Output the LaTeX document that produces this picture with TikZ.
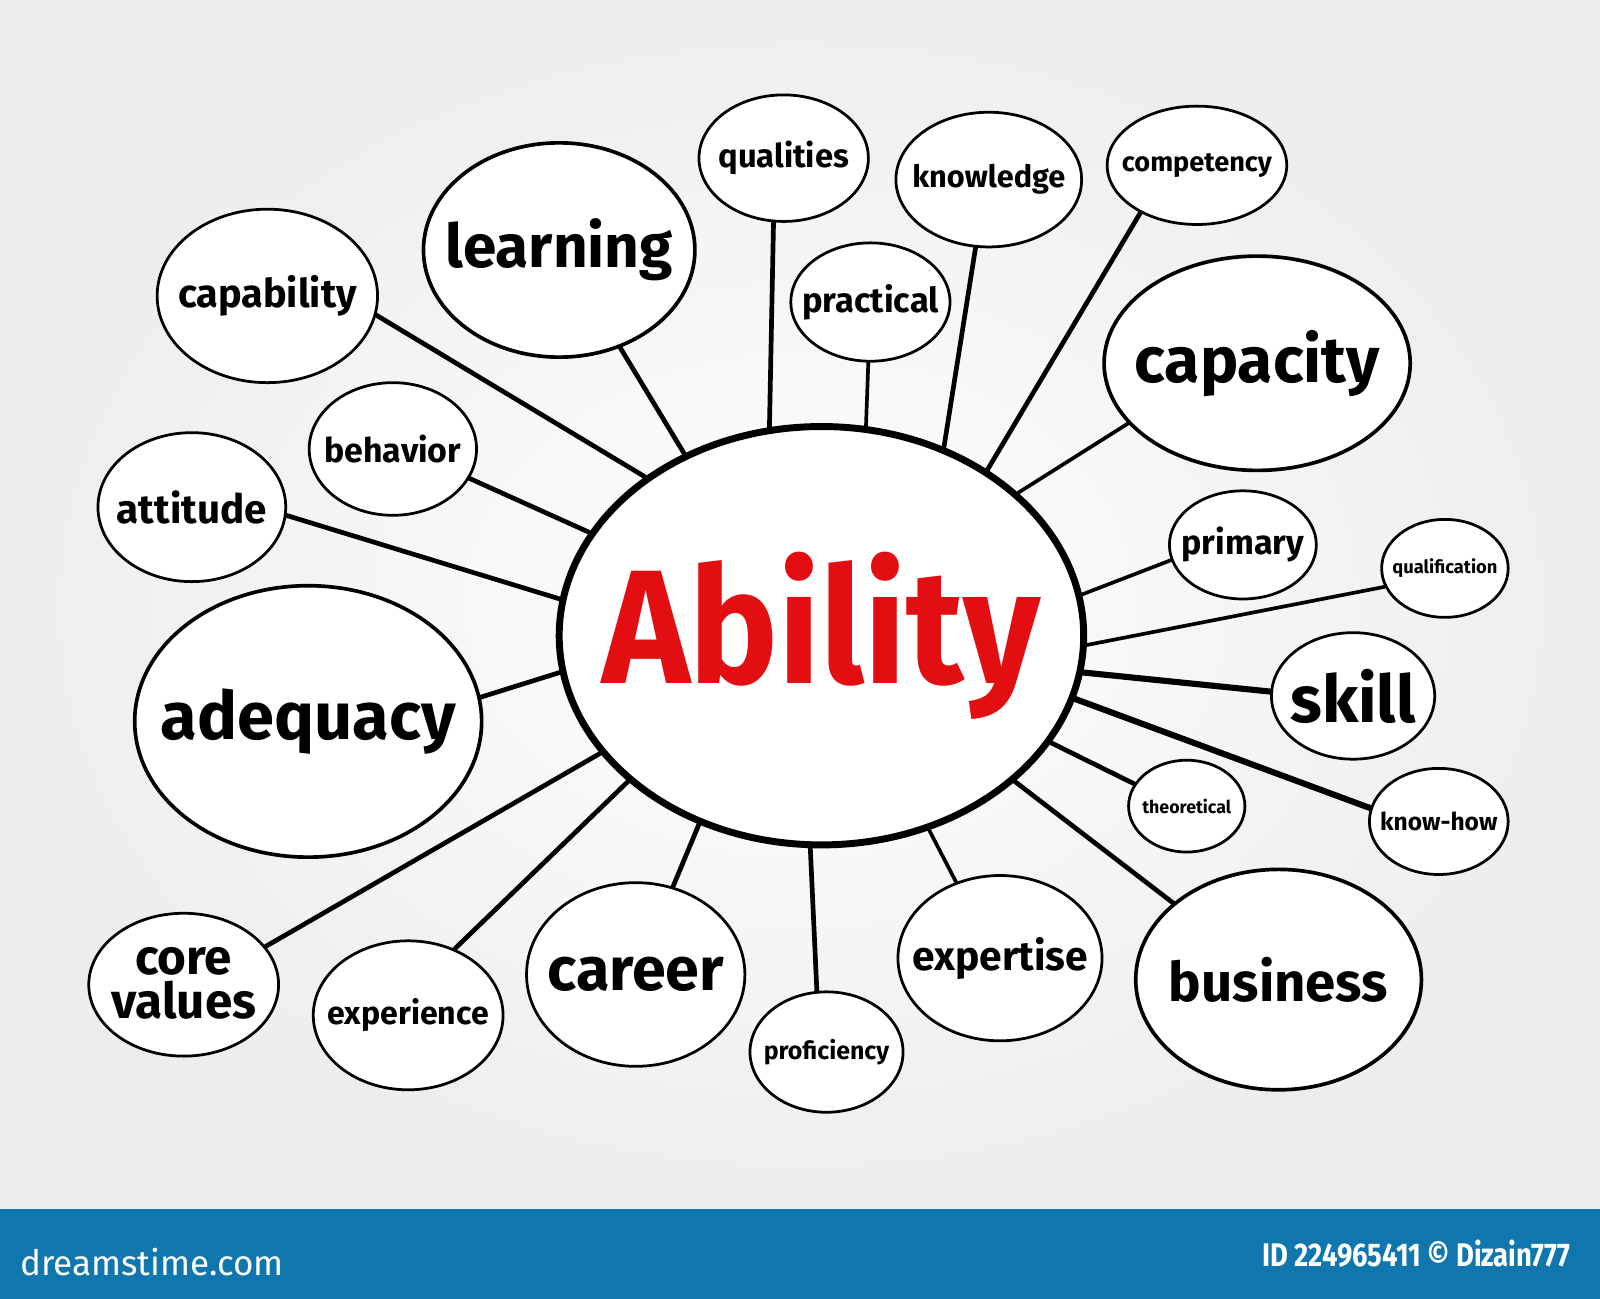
\documentclass[tikz,border=0pt]{standalone}
\usepackage{fontspec}
\setmainfont{Fira Sans}
\usepackage{graphicx}
\usetikzlibrary{shapes.geometric}
\definecolor{abred}{RGB}{226,14,18}
\definecolor{barblue}{RGB}{16,119,174}
\newcommand\bubtext[2]{\resizebox{#1pt}{!}{\bfseries #2}}
\begin{document}
\begin{tikzpicture}[x=0.5pt,y=-0.5pt,
  bub/.style n args={2}{ellipse, draw=black, fill=white, line width=1.35pt,
    minimum width=#1pt, minimum height=#2pt, inner sep=0pt},
  bigbub/.style={line width=1.8pt},
  conn/.style={line width=2.3pt, line cap=round},
  cthin/.style={line width=1.8pt},
  cthick/.style={line width=3pt}]
\useasboundingbox (0,0) rectangle (1568,1273);
\shade[inner color=white, outer color=black!7] (0,0) rectangle (1568,1185);
\fill[barblue] (0,1185) rectangle (1568,1273);

% centre
\node[bub={257}{205}, line width=3.4pt,
  label={[text=abred]center:{\resizebox*{215pt}{82pt}{\bfseries Ability}}}] (ab) at (805,623) {};

% outer bubbles
\node[bub={83}{62}, label=center:{\bubtext{64}{qualities}}] (qual) at (768,155) {};
\node[bub={91}{66}, label=center:{\bubtext{75}{knowledge}}] (know) at (969,176) {};
\node[bub={88}{58}, label=center:{\bubtext{73.5}{competency}}] (comp) at (1173,162) {};
\node[bub={133}{105}, bigbub, label=center:{\bubtext{111.5}{learning}}] (learn) at (548,245) {};
\node[bub={108}{85}, label=center:{\bubtext{87.5}{capability}}] (capab) at (262,290) {};
\node[bub={78}{58}, label=center:{\bubtext{67}{practical}}] (pract) at (853,296) {};
\node[bub={150}{105}, bigbub, label=center:{\bubtext{120}{capacity}}] (capac) at (1232,356) {};
\node[bub={82}{65}, label=center:{\bubtext{67}{behavior}}] (behav) at (385,440) {};
\node[bub={92}{73}, label=center:{\bubtext{73.5}{attitude}}] (attit) at (188,497) {};
\node[bub={72}{53}, label=center:{\bubtext{60}{primary}}] (prim) at (1218,534) {};
\node[bub={62}{48}, label=center:{\bubtext{51.5}{qualification}}] (qualif) at (1416,557) {};
\node[bub={170}{133}, bigbub, label=center:{\bubtext{144.5}{adequacy}}] (adeq) at (302,707) {};
\node[bub={80}{62}, label=center:{\bubtext{61.5}{skill}}] (skill) at (1326,682) {};
\node[bub={57}{45}, label=center:{\bubtext{43.5}{theoretical}}] (theor) at (1163,790) {};
\node[bub={68}{52}, label=center:{\bubtext{57.5}{know-how}}] (knowhow) at (1410,805) {};
\node[bub={93}{70}, label=center:{\resizebox{71pt}{!}{\bfseries\begin{tabular}{@{}c@{}}core\\[-3pt]values\end{tabular}}}] (core) at (180,965) {};
\node[bub={93}{73}, label=center:{\bubtext{79}{experience}}] (exper) at (400,995) {};
\node[bub={107}{90}, label=center:{\bubtext{86.5}{career}}] (career) at (623,955) {};
\node[bub={75}{59}, label=center:{\bubtext{61.5}{proficiency}}] (profic) at (810,1031) {};
\node[bub={100}{81}, label=center:{\bubtext{86}{expertise}}] (expert) at (980,939) {};
\node[bub={140}{108}, bigbub, label=center:{\bubtext{107.5}{business}}] (busin) at (1253,960) {};

% connectors
\draw[conn] (ab.138) -- (capab.350);
\draw[conn] (ab.127) -- (learn.302);
\draw[conn] (ab.104) -- (qual.261);
\draw[conn, cthin] (ab.78) -- (pract.268);
\draw[conn] (ab.57) -- (know.259);
\draw[conn] (ab.45) -- (comp.220);
\draw[conn, cthin] (ab.36) -- (capac.205);
\draw[conn, cthin] (ab.9) -- (prim.192);
\draw[conn, cthin] (ab.358) -- (qualif.197);
\draw[conn, cthick] (ab.352) -- (skill.177);
\draw[conn, cthick] (ab.346) -- (knowhow.169);
\draw[conn] (ab.335) -- (theor.157);
\draw[conn] (ab.323) -- (busin.144);
\draw[conn, cthin] (ab.299) -- (expert.120);
\draw[conn] (ab.267) -- (profic.99);
\draw[conn] (ab.237) -- (career.67);
\draw[conn] (ab.217) -- (exper.55);
\draw[conn] (ab.208) -- (core.25);
\draw[conn] (ab.188) -- (adeq.8);
\draw[conn] (ab.172) -- (attit.355);
\draw[conn] (ab.156) -- (behav.339);

% footer
\node[text=white, inner sep=0pt] (dtlogo) at (149,1237) {\resizebox{129pt}{!}{dreamstime.com}};
\node[text=white, inner sep=0pt] (dtid) at (1388,1229) {\resizebox{151pt}{13pt}{\bfseries ID 224965411 © Dizain777}};
\end{tikzpicture}
\end{document}
